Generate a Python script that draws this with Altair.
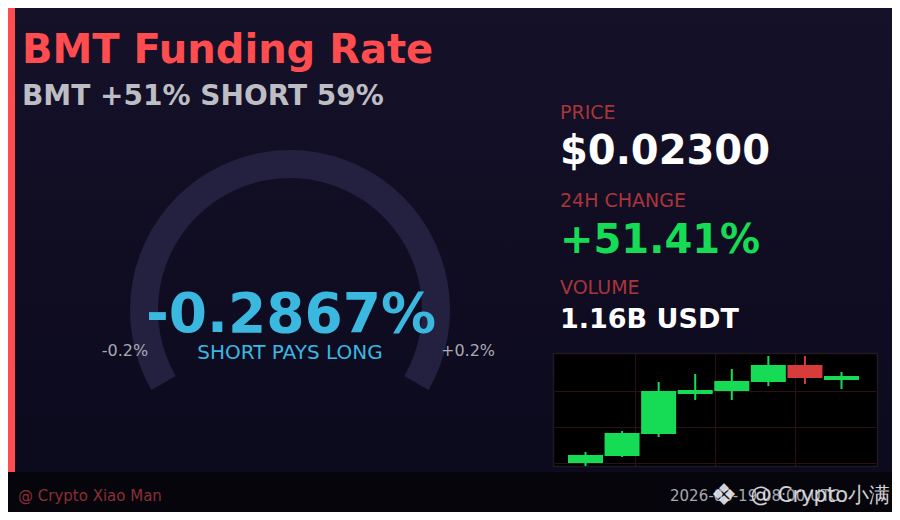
import math
import altair as alt
import pandas as pd

# ---------------- data ----------------
title_text = ["BMT Funding Rate"]
subtitle_text = ["BMT +51% SHORT 59%"]
stat_labels = ["PRICE", "24H CHANGE", "VOLUME"]
stat_values = ["$0.02300", "+51.41%", "1.16B USDT"]
funding_rate = ["-0.2867%"]
funding_side = ["SHORT PAYS LONG"]
gauge_ticks = ["-0.2%", "+0.2%"]
footer_left = ["@ Crypto Xiao Man"]
footer_right = ["2026-03-19 08:00 UTC"]
watermark = ["@ Crypto小满"]
logo = ["❖"]

candle_i = [0, 1, 2, 3, 4, 5, 6, 7]
candle_open = [0.01520, 0.01583, 0.01780, 0.02139, 0.02166, 0.02246, 0.02399, 0.02264]
candle_close = [0.01592, 0.01789, 0.02166, 0.02174, 0.02255, 0.02399, 0.02282, 0.02300]
candle_high = [0.01619, 0.01807, 0.02246, 0.02318, 0.02363, 0.02479, 0.02479, 0.02336]
candle_low = [0.01493, 0.01574, 0.01753, 0.02085, 0.02085, 0.02210, 0.02228, 0.02183]

# ---------------- layout / style ----------------
PAGE_W, PAGE_H = 900, 520
OX, OY = 8, 8  # page margin: chart origin on the page
W, H = PAGE_W - 2 * OX, PAGE_H - 2 * OY
FONT = "DejaVu Sans"
RED = "#ff4d4f"
GREEN = "#16dc55"
CRED = "#d63c3c"
BLUE = "#3ab8e0"
LABEL_RED = "#a8353a"
TRACK = "#23213f"
GRID = "#2a1218"


def px(x):
    return alt.value(x - OX)


def py(y):
    return alt.value(y - OY)


def text_layer(items, x, y, size, color, weight="normal", align="left", opacity=1.0):
    return alt.Chart(pd.DataFrame({"t": items})).mark_text(
        align=align, baseline="alphabetic", font=FONT, fontSize=size,
        fontWeight=weight, color=color, opacity=opacity
    ).encode(x=px(x), y=py(y), text="t:N")


one = pd.DataFrame({"k": [0]})

bg = alt.Chart(one).mark_rect(
    fill=alt.Gradient(gradient="linear", x1=0, y1=0, x2=0, y2=1,
                      stops=[alt.GradientStop(color="#151129", offset=0),
                             alt.GradientStop(color="#0c0a1d", offset=1)])
).encode(x=px(OX), x2=px(PAGE_W), y=py(OY), y2=py(472))

footer = alt.Chart(one).mark_rect(fill="#06050b").encode(
    x=px(OX), x2=px(PAGE_W), y=py(472), y2=py(PAGE_H))

redbar = alt.Chart(one).mark_rect(fill=RED).encode(
    x=px(OX), x2=px(OX + 7), y=py(OY), y2=py(472))

gauge = alt.Chart(one).mark_arc(
    radius=160, radius2=132, theta=4 * math.pi / 3, theta2=8 * math.pi / 3, fill=TRACK
).encode(x=px(290), y=py(310))

panel = alt.Chart(one).mark_rect(fill="#000000", stroke="#241820", strokeWidth=1.5).encode(
    x=px(553.5), x2=px(877.5), y=py(353.5), y2=py(466.5))

vgrid = [alt.Chart(one).mark_rule(color=GRID, strokeWidth=1).encode(
    x=px(gx), y=py(354), y2=py(466)) for gx in (635.5, 715.5, 795.5)]
hgrid = [alt.Chart(one).mark_rule(color=GRID, strokeWidth=1).encode(
    x=px(555), x2=px(876), y=py(gy)) for gy in (391.5, 427.5, 463.5)]

cdf = pd.DataFrame({"i": candle_i, "open": candle_open, "close": candle_close,
                    "high": candle_high, "low": candle_low})

xs = alt.Scale(domain=[0, 7], range=[580.5 - OX, 846.5 - OX], nice=False, zero=False)
ys = alt.Scale(domain=[0.0152, 0.0230], range=[463 - OY, 376 - OY], nice=False, zero=False)
ccolor = alt.condition("datum.close >= datum.open", alt.value(GREEN), alt.value(CRED))

wick = alt.Chart(cdf).mark_rule(strokeWidth=2).encode(
    x=alt.X("i:Q", scale=xs, axis=None),
    y=alt.Y("low:Q", scale=ys, axis=None),
    y2="high:Q",
    color=ccolor,
)
body = alt.Chart(cdf).mark_bar(size=35, orient="vertical").encode(
    x=alt.X("i:Q", scale=xs, axis=None),
    y=alt.Y("open:Q", scale=ys, axis=None),
    y2="close:Q",
    color=ccolor,
)

texts = [
    text_layer(title_text, 22, 63, 40, RED, "bold"),
    text_layer(subtitle_text, 22, 105, 28, "#bdbdc4", "bold"),
    text_layer([stat_labels[0]], 560, 119, 19, LABEL_RED),
    text_layer([stat_values[0]], 560, 164, 40, "#ffffff", "bold"),
    text_layer([stat_labels[1]], 560, 207, 19, LABEL_RED),
    text_layer([stat_values[1]], 560, 253, 40, GREEN, "bold"),
    text_layer([stat_labels[2]], 560, 294, 19, LABEL_RED),
    text_layer([stat_values[2]], 560, 328, 27, "#ffffff", "bold"),
    text_layer(funding_rate, 291, 332, 55, BLUE, "bold", "center"),
    text_layer(funding_side, 290, 359, 20, BLUE, "normal", "center"),
    text_layer([gauge_ticks[0]], 125, 356, 16, "#a9a9b3", "normal", "center"),
    text_layer([gauge_ticks[1]], 468, 356, 16, "#a9a9b3", "normal", "center"),
    text_layer(footer_left, 18, 501, 15, "#8c2e36"),
    text_layer(footer_right, 670, 501, 15, "#a8a8b0"),
    text_layer(logo, 724, 505, 30, "#e8e8ee", "normal", "center", 0.9),
    text_layer(watermark, 890, 502, 21, "#e6e6ec", "normal", "right", 0.9),
]

chart = alt.layer(
    bg, footer, redbar, gauge, panel, *vgrid, *hgrid, wick, body, *texts
).properties(
    width=W, height=H, padding=0, autosize=alt.AutoSizeParams(type="none"),
    background="#0c0a1d",
).configure_view(stroke=None)

chart.save("out.html", embed_options={"renderer": "svg", "actions": False})
